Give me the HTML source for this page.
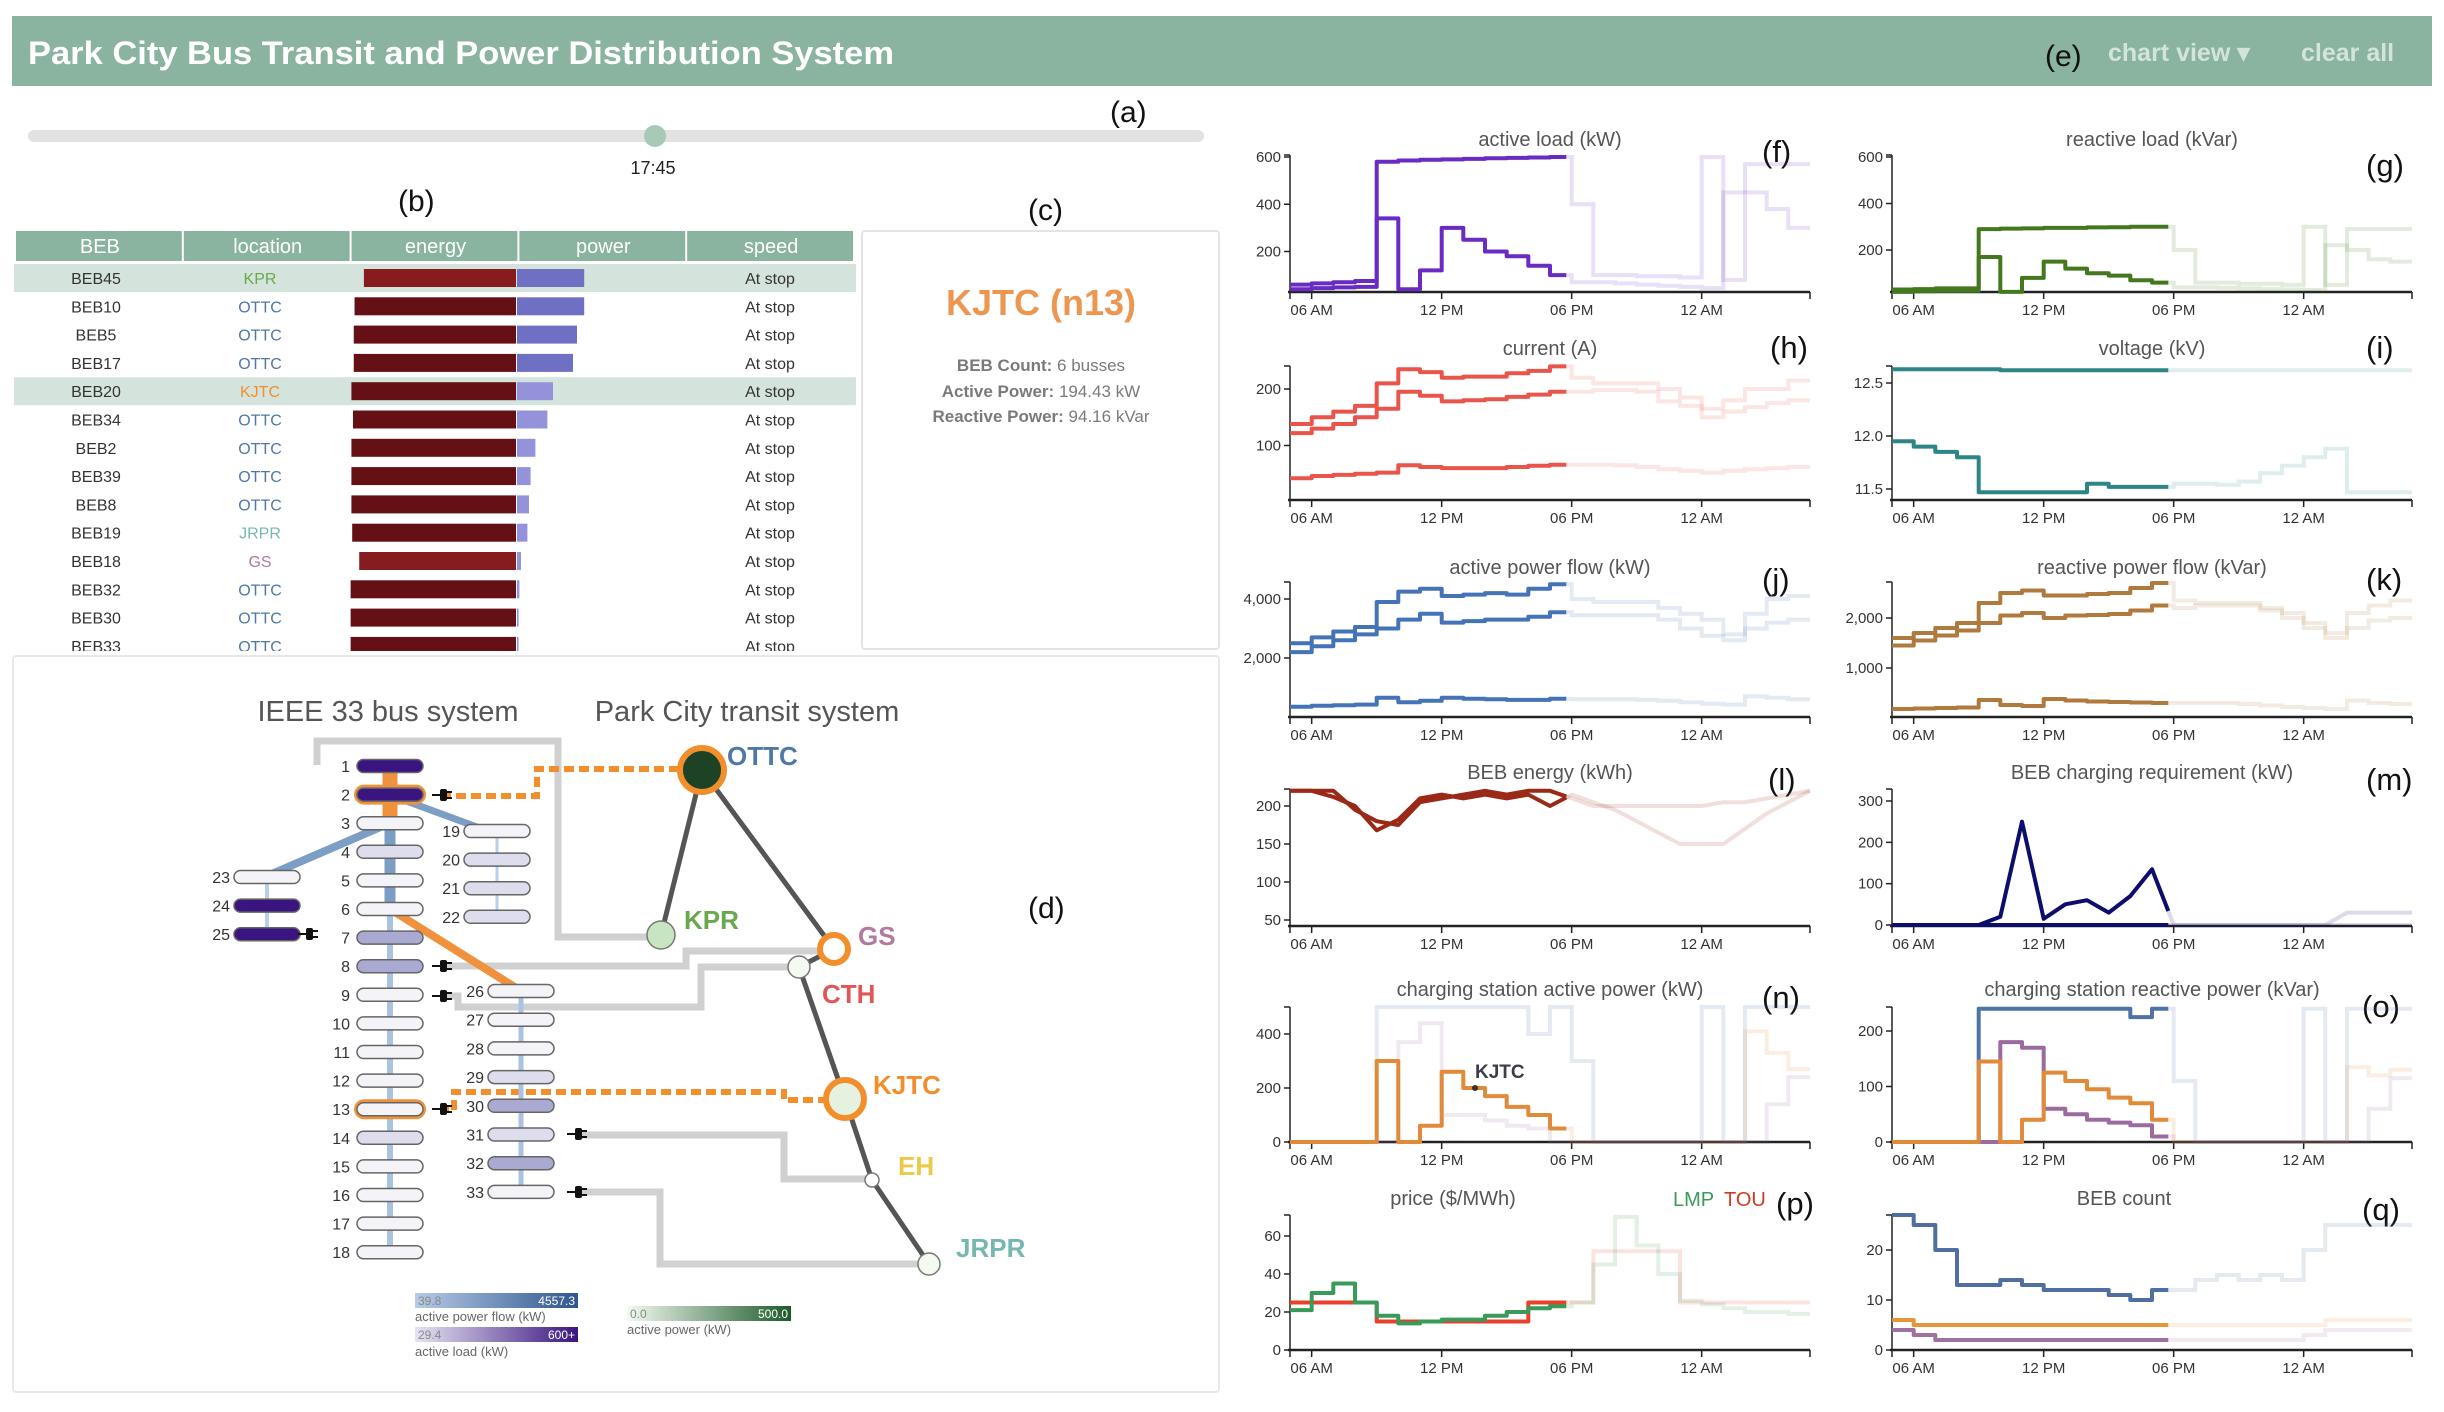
<!DOCTYPE html>
<html><head><meta charset="utf-8">
<style>
html,body{margin:0;padding:0;background:#fff;}
body{width:2444px;height:1412px;overflow:hidden;position:relative;font-family:"Liberation Sans",sans-serif;}
svg{position:absolute;left:0;top:0;}
</style></head>
<body>
<svg id="main" width="2444" height="1412" viewBox="0 0 2444 1412" xmlns="http://www.w3.org/2000/svg" font-family="Liberation Sans, sans-serif">
  <g>
    <rect x="12" y="16" width="2420" height="70" fill="#8ab3a0"/>
    <text x="28" y="64" font-size="32" font-weight="bold" fill="#fff" textLength="866" lengthAdjust="spacingAndGlyphs">Park City Bus Transit and Power Distribution System</text>
    <text x="2045" y="66" font-size="30" fill="#111">(e)</text>
    <text x="2108" y="61" font-size="25" font-weight="bold" fill="#d3e4db">chart view ▾</text>
    <text x="2301" y="61" font-size="25" font-weight="bold" fill="#d3e4db">clear all</text>
  </g>
  <g>
    <rect x="28" y="130" width="1176" height="12" rx="6" fill="#e2e2e2"/>
    <circle cx="655" cy="136" r="11" fill="#a8c9b7"/>
    <text x="653" y="174" font-size="18" fill="#222" text-anchor="middle">17:45</text>
  </g>
  <text x="1110" y="122" font-size="30" fill="#111">(a)</text>
  <text x="398" y="211" font-size="30" fill="#111">(b)</text>
  <text x="1028" y="220" font-size="30" fill="#111">(c)</text>

  <g id="table"></g>

  <g>
    <rect x="862" y="231" width="357" height="418" fill="#fff" stroke="#e4e4e4" stroke-width="2" rx="3"/>
    <text x="1041" y="315" font-size="36" font-weight="bold" fill="#ec9650" text-anchor="middle">KJTC (n13)</text>
    <text x="1041" y="371" font-size="17" fill="#7a7a7a" text-anchor="middle"><tspan font-weight="bold">BEB Count:</tspan> 6 busses</text>
    <text x="1041" y="397" font-size="17" fill="#7a7a7a" text-anchor="middle"><tspan font-weight="bold">Active Power:</tspan> 194.43 kW</text>
    <text x="1041" y="422" font-size="17" fill="#7a7a7a" text-anchor="middle"><tspan font-weight="bold">Reactive Power:</tspan> 94.16 kVar</text>
  </g>

  <g id="net">
    <rect x="13" y="656" width="1206" height="736" fill="#fff" stroke="#e8e8e8" stroke-width="2" rx="3"/>
    <text x="388" y="721" font-size="29" fill="#555" text-anchor="middle">IEEE 33 bus system</text>
    <text x="747" y="721" font-size="29" fill="#555" text-anchor="middle">Park City transit system</text>
    <text x="1028" y="918" font-size="30" fill="#111">(d)</text>
  </g>

  <g id="charts"></g>
</svg>

<script>
const hours = [5,6,7,8,9,10,11,12,13,14,15,16,17,18,19,20,21,22,23,24,25,26,27,28,29];
const currentTime = 17.75;
const xTicks = [6,12,18,24];
const xTickLabels = ["06 AM","12 PM","06 PM","12 AM"];

const activeLoadA = [60,65,70,75,580,585,588,590,592,595,596,598,600,400,100,100,95,95,90,600,80,570,570,570,570];
const activeLoadB = [40,45,48,50,340,40,120,300,250,200,180,140,100,70,70,65,60,55,50,45,450,450,380,300,300];
const reactiveLoadA = [30,32,35,35,290,292,293,295,295,297,298,300,300,200,60,60,55,55,50,300,50,290,290,290,290];
const reactiveLoadB = [20,22,25,25,170,20,80,150,120,100,90,70,60,40,40,38,35,32,30,28,220,200,160,150,150];
const currentA = [138,150,160,170,210,235,230,220,222,222,228,232,240,220,210,210,210,200,185,165,180,200,200,215,215];
const currentB = [122,130,138,150,165,195,188,178,180,182,186,190,195,195,198,198,195,178,170,150,160,168,175,180,180];
const currentC = [42,46,48,50,52,65,62,60,60,60,62,64,66,66,66,65,62,58,55,52,55,58,60,62,62];
const voltageA = [12.63,12.63,12.63,12.63,12.63,12.62,12.62,12.62,12.62,12.62,12.62,12.62,12.62,12.62,12.62,12.62,12.62,12.62,12.62,12.62,12.62,12.62,12.62,12.62,12.62];
const voltageB = [11.95,11.9,11.85,11.8,11.47,11.47,11.47,11.47,11.47,11.55,11.52,11.52,11.52,11.55,11.55,11.54,11.57,11.65,11.72,11.8,11.88,11.47,11.47,11.47,11.47];
const flowA = [2500,2700,2900,3050,3900,4250,4350,4100,4150,4200,4150,4350,4500,4000,3900,3900,3900,3700,3500,3300,2800,3500,4000,4100,4100];
const flowB = [2200,2400,2600,2800,3000,3300,3500,3200,3250,3300,3300,3400,3550,3450,3450,3450,3450,3300,3000,2750,2600,3000,3200,3300,3300];
const flowC = [350,380,400,420,650,500,550,650,620,600,580,580,620,600,600,600,580,550,500,450,420,700,650,600,600];
const rflowA = [1600,1700,1800,1900,2300,2500,2550,2450,2450,2480,2500,2600,2700,2350,2300,2300,2300,2200,2100,1900,1700,2100,2250,2350,2350];
const rflowB = [1450,1550,1650,1750,1900,2050,2100,2000,2050,2060,2080,2150,2250,2200,2250,2250,2250,2150,2000,1800,1600,1800,1950,2000,2000];
const rflowC = [180,190,200,210,360,260,240,380,350,330,320,310,300,300,300,300,280,250,220,200,180,350,300,280,280];
const energyA = [220,220,220,195,180,175,205,210,215,220,215,220,220,210,200,200,200,200,200,200,205,205,210,215,220];
const energyB = [220,220,212,200,168,182,210,215,210,215,210,215,200,215,205,195,180,165,150,150,150,170,190,205,220];
const chargeReqA = [0,0,0,0,0,20,250,15,50,60,30,70,135,0,0,0,0,0,0,0,0,0,0,0,0];
const chargeReqB = [0,0,0,0,0,0,0,0,0,0,0,0,0,0,0,0,0,0,0,0,0,30,30,30,30];
const csActiveKJTC = [0,0,0,0,300,0,60,260,200,170,130,100,50,0,0,0,0,0,0,0,0,410,330,270,270];
const csActiveOTTC = [0,0,0,0,500,500,500,500,500,500,500,400,500,300,0,0,0,0,0,500,0,500,500,500,500];
const csActiveGS = [0,0,0,0,0,370,440,100,100,80,60,50,0,0,0,0,0,0,0,0,0,0,140,240,240];
const csReactOTTC = [0,0,0,0,240,240,240,240,240,240,240,225,240,110,0,0,0,0,0,240,0,240,240,240,240];
const csReactKJTC = [0,0,0,0,145,0,40,125,110,95,80,70,40,0,0,0,0,0,0,0,0,135,120,130,130];
const csReactGS = [0,0,0,0,0,180,170,60,50,40,35,30,10,0,0,0,0,0,0,0,0,0,60,115,115];
const priceLMP = [21,30,35,25,18,14,15,16,16,18,20,22,23,25,45,70,55,40,26,24,22,20,20,19,19];
const priceTOU = [25,25,25,25,15,15,15,15,15,15,15,25,25,25,52,52,52,52,25,25,25,25,25,25,25];
const countOTTC = [27,25,20,13,13,14,13,12,12,12,11,10,12,12,14,15,14,15,14,20,25,25,25,25,25];
const countKJTC = [6,5,5,5,5,5,5,5,5,5,5,5,5,5,5,5,5,5,5,5,6,6,6,6,6];
const countGS = [4,3,2,2,2,2,2,2,2,2,2,2,2,2,2,2,2,2,2,3,4,4,4,4,4];

const bebIds = ["BEB45","BEB10","BEB5","BEB17","BEB20","BEB34","BEB2","BEB39","BEB8","BEB19","BEB18","BEB32","BEB30","BEB33"];
const bebLocs = ["KPR","OTTC","OTTC","OTTC","KJTC","OTTC","OTTC","OTTC","OTTC","JRPR","GS","OTTC","OTTC","OTTC"];
const bebEnergy = [195,207,208,208,211,209,211,211,211,210,201,212,212,212];
const bebPower = [84,84,75,70,45,38,23,17,15,13,5,3,2,2];
</script>
<script>
const NS="http://www.w3.org/2000/svg";
function mk(tag,attrs,parent){const e=document.createElementNS(NS,tag);for(const k in attrs)e.setAttribute(k,attrs[k]);if(parent)parent.appendChild(e);return e;}

(function(){
  const g=document.getElementById('table');
  const heads=["BEB","location","energy","power","speed"];
  const cw=167.8, x0=16;
  heads.forEach((h,i)=>{
    const r=mk('rect',{x:x0+i*cw,y:231,width:cw-2,height:30,fill:'#8ab3a0'},g);
    
    
    const t=mk('text',{x:x0+i*cw+cw/2,y:253,'font-size':20,fill:'#fff','text-anchor':'middle'},g);
    t.textContent=h;
    
    
  });
  const locColor={KPR:'#6aa84f',OTTC:'#4e79a7',KJTC:'#f28e2b',JRPR:'#76b7b2',GS:'#b07aa1'};
  bebIds.forEach((id,i)=>{
    const yT=264+i*28.3, yc=yT+14;
    const row=mk('g',{},g);
    
    
    if(i===0||i===4) mk('rect',{x:14,y:yT,width:842,height:28,fill:'#d4e4dc'},row);
    let t=mk('text',{x:96,y:yc+6,'font-size':16,fill:'#333','text-anchor':'middle'},row);t.textContent=id;
    t=mk('text',{x:260,y:yc+6,'font-size':16,fill:locColor[bebLocs[i]],'text-anchor':'middle'},row);t.textContent=bebLocs[i];
    const ew=bebEnergy[i]*0.78;
    const eb=mk('rect',{x:516-ew,y:yc-9,width:ew,height:18,fill:(i===0||i===10)?'#861c1e':'#651015'},row);
    
    
    const pw=bebPower[i]*0.8;
    const pb=mk('rect',{x:517,y:yc-9,width:pw,height:18,fill:bebPower[i]>60?'#6f6fc4':'#9592dc'},row);
    
    
    t=mk('text',{x:770,y:yc+6,'font-size':16,fill:'#333','text-anchor':'middle'},row);t.textContent='At stop';
  });
  mk('rect',{x:0,y:651,width:860,height:4,fill:'#fff'},g);
})();

(function(){
  const g=document.getElementById('net');
  const gray='#d0d0d0';
  function path(d,st,name){const p=mk('path',Object.assign({d:d,fill:'none'},st),g);return p;}
  path('M317,765 L317,741 L558,741 L558,937 L660,937',{stroke:gray,'stroke-width':7},'link-kpr');
  path('M444,966 L686,966 L686,951 L818,951',{stroke:gray,'stroke-width':7},'link-gs');
  path('M444,996 L458,996 L458,1007 L701,1007 L701,967 L799,967',{stroke:gray,'stroke-width':7},'link-cth');
  path('M579,1135 L784,1135 L784,1179 L872,1179',{stroke:gray,'stroke-width':7},'link-eh');
  path('M579,1192 L660,1192 L660,1264 L929,1264',{stroke:gray,'stroke-width':7},'link-jrpr');
  path('M661,935 L702,770 L834,949 L799,967 L845,1099 L872,1180 L929,1264',{stroke:'#555','stroke-width':5},'transit-route');
  path('M679,769 L537,769 L537,796 L444,796',{stroke:'#f28e2b','stroke-width':6,'stroke-dasharray':'10,5'},'charging-link-ottc');
  path('M828,1100 L784,1100 L784,1092 L454,1092 L454,1110 L444,1110',{stroke:'#f28e2b','stroke-width':6,'stroke-dasharray':'10,5'},'charging-link-kjtc');
  path('M390,766 L390,823',{stroke:'#f0913d','stroke-width':15},'line-1-3');
  path('M390,823 L390,909',{stroke:'#7c9dc4','stroke-width':11},'line-3-6');
  path('M390,909 L390,1252',{stroke:'#a9c3e0','stroke-width':6},'line-6-18');
  path('M390,795 L485,830',{stroke:'#7c9dc4','stroke-width':7},'line-2-19');
  path('M497,831 L497,917',{stroke:'#b8d0ea','stroke-width':3},'line-19-22');
  path('M390,823 L267,876',{stroke:'#7c9dc4','stroke-width':8},'line-3-23');
  path('M267,876 L267,934',{stroke:'#b8d0ea','stroke-width':4},'line-23-25');
  path('M390,909 L521,991',{stroke:'#f0913d','stroke-width':8},'line-6-26');
  path('M521,991 L521,1192',{stroke:'#a9c3e0','stroke-width':5},'line-26-33');
  const buses=[];
  for(let i=1;i<=18;i++)buses.push([i,390,766+(i-1)*28.6,350]);
  for(let i=19;i<=22;i++)buses.push([i,497,831+(i-19)*28.6,460]);
  for(let i=23;i<=25;i++)buses.push([i,267,877+(i-23)*28.6,230]);
  for(let i=26;i<=33;i++)buses.push([i,521,991+(i-26)*28.7,484]);
  const dark=[1,24,25], mid=[7,8,30,32], light2=[4,14,20,21,22,29,31];
  buses.forEach(([n,cx,cy,lx])=>{
    let fill='#f3f3f8'; if(dark.includes(n))fill='#3a1580'; else if(mid.includes(n))fill='#aaa9d2'; else if(light2.includes(n))fill='#dddded';
    if(n===2||n===13){mk('rect',{x:cx-36,y:cy-10,width:72,height:20,rx:10,fill:'#f0913d'},g);}
    const r=mk('rect',{x:cx-33,y:cy-6.5,width:66,height:13,rx:6.5,fill:n===2?'#3a1580':fill,stroke:'#666','stroke-width':1.5},g);
    
    
    const t=mk('text',{x:lx,y:cy+6,'font-size':16,fill:'#333','text-anchor':'end'},g);t.textContent=n;
  });
  [[444,795],[444,966],[444,996],[444,1109],[310,934],[579,1134],[579,1192]].forEach(([x,y])=>{
    const p=mk('g',{},g);
    
    
    mk('line',{x1:x-12,y1:y,x2:x-3,y2:y,stroke:'#111','stroke-width':2},p);
    mk('rect',{x:x-4,y:y-6,width:7,height:12,rx:2,fill:'#111'},p);
    mk('line',{x1:x+3,y1:y-3,x2:x+8,y2:y-3,stroke:'#111','stroke-width':2},p);
    mk('line',{x1:x+3,y1:y+3,x2:x+8,y2:y+3,stroke:'#111','stroke-width':2},p);
  });
  const nodes=[["OTTC",702,770,22,'#1e4226','#f28e2b',727,755,'#4e79a7'],
    ["KPR",661,935,14,'#c8e5c2','#777',684,919,'#6aa84f'],
    ["GS",834,949,14,'#fff','#f28e2b',858,935,'#b07aa1'],
    ["CTH",799,967,11,'#f4faf2','#777',822,993,'#e15759'],
    ["KJTC",845,1099,19,'#e4f2df','#f28e2b',873,1084,'#f28e2b'],
    ["EH",872,1180,7,'#fff','#777',898,1165,'#edc948'],
    ["JRPR",929,1264,11,'#f4faf2','#777',956,1247,'#76b7b2']];
  nodes.forEach(([n,x,y,r,f,s,lx,ly,lc])=>{
    const c=mk('circle',{cx:x,cy:y,r:r,fill:f,stroke:s,'stroke-width':(s==='#f28e2b'?6:1.5)},g);
    
    
    const t=mk('text',{x:lx,y:ly+10,'font-size':26,'font-weight':'bold',fill:lc},g);t.textContent=n;
  });
  const defs=mk('defs',{},g);
  const gr=(id,a,b)=>{const lg=mk('linearGradient',{id:id},defs);mk('stop',{offset:'0',['stop-color']:a},lg);mk('stop',{offset:'1',['stop-color']:b},lg);};
  gr('gFlow','#b8cbe6','#2d5690');gr('gLoad','#e6e4f2','#3a1580');gr('gAct','#f2faf0','#1e5a2a');
  const L=[[415,1293,163,15,'gFlow','39.8','4557.3','active power flow (kW)',1321,'legend-power-flow'],
           [415,1327,163,15,'gLoad','29.4','600+','active load (kW)',1356,'legend-active-load'],
           [627,1306,164,15,'gAct','0.0','500.0','active power (kW)',1334,'legend-active-power']];
  L.forEach(([x,y,w,h,id,a,b,lab,ly,name])=>{
    const lg=mk('g',{},g);
    
    
    mk('rect',{x:x,y:y,width:w,height:h,fill:'url(#'+id+')'},lg);
    let t=mk('text',{x:x+3,y:y+12,'font-size':12,fill:'#8a8a8a'},lg);t.textContent=a;
    t=mk('text',{x:x+w-3,y:y+12,'font-size':12,fill:'#fff','text-anchor':'end'},lg);t.textContent=b;
    t=mk('text',{x:x,y:ly,'font-size':13,fill:'#666'},lg);t.textContent=lab;
  });
})();

(function(){
  const g=document.getElementById('charts');
  const PXH=520/24;
  function chart(c){
    const cg=mk('g',{},g);
    
    
    const X=t=>c.x0+(t-5)*PXH;
    const k=(c.p1-c.p2)/(c.v1-c.v2);
    const Y=v=>c.p2+(v-c.v2)*k;
    let t=mk('text',{x:c.tx||c.x0+260,y:c.ty,'font-size':20,fill:'#555','text-anchor':'middle'},cg);t.textContent=c.title;
    
    
    t=mk('text',{x:c.lx,y:c.ly,'font-size':31,fill:'#111'},cg);t.textContent=c.label;
    mk('line',{x1:c.x0,y1:c.top,x2:c.x0,y2:c.base,stroke:'#222','stroke-width':1.5},cg);
    mk('line',{x1:c.x0-6,y1:c.top,x2:c.x0,y2:c.top,stroke:'#222','stroke-width':1.5},cg);
    mk('line',{x1:c.x0-2,y1:c.base,x2:c.x0+520,y2:c.base,stroke:'#222','stroke-width':2.5},cg);
    [5,29].forEach(h=>mk('line',{x1:X(h),y1:c.base,x2:X(h),y2:c.base+7,stroke:'#222','stroke-width':1.5},cg));
    xTicks.forEach((h,i)=>{
      mk('line',{x1:X(h),y1:c.base,x2:X(h),y2:c.base+7,stroke:'#222','stroke-width':1.5},cg);
      const tt=mk('text',{x:X(h),y:c.base+23,'font-size':15,fill:'#333','text-anchor':'middle'},cg);tt.textContent=xTickLabels[i];
    });
    c.yticks.forEach(v=>{
      const y=Y(v);
      mk('line',{x1:c.x0-6,y1:y,x2:c.x0,y2:y,stroke:'#222','stroke-width':1.5},cg);
      const tt=mk('text',{x:c.x0-9,y:y+5,'font-size':15,fill:'#333','text-anchor':'end'},cg);
      tt.textContent=c.fmt?c.fmt(v):v.toLocaleString('en-US');
    });
    c.series.forEach(s=>{
      const vals=s.data;
      const pts=[];
      for(let i=0;i<hours.length;i++){
        const yv=Math.max(c.top,Math.min(c.base,Y(vals[i])));
        if(c.step&&i>0){pts.push([hours[i],pts[pts.length-1][1]]);}
        pts.push([hours[i],yv]);
      }
      const solid=[],fade=[];
      for(let i=0;i<pts.length;i++){
        const [h,y]=pts[i];
        if(h<=currentTime) solid.push([h,y]);
        if(i>0&&pts[i-1][0]<currentTime&&h>currentTime){
          const [h0,y0]=pts[i-1];const f=(currentTime-h0)/(h-h0);const yy=y0+(y-y0)*f;
          solid.push([currentTime,yy]);fade.push([currentTime,yy]);
        }
        if(h>=currentTime) fade.push([h,y]);
      }
      const d=a=>a.map((p,i)=>(i?'L':'M')+X(p[0]).toFixed(1)+','+p[1].toFixed(1)).join(' ');
      if(!s.fadeOnly){
        const p=mk('path',{d:d(solid),fill:'none',stroke:s.color,'stroke-width':4,'stroke-linejoin':'round'},cg);
        
        
        const p2=mk('path',{d:d(fade),fill:'none',stroke:s.color,'stroke-width':4,opacity:0.15},cg);
        
        
      } else {
        const p=mk('path',{d:d(pts),fill:'none',stroke:s.color,'stroke-width':4,opacity:0.15},cg);
        
        
      }
    });
    return {X,Y,cg};
  }
  const L0=1290,R0=1892;
  chart({name:'active-load-chart',title:'active load (kW)',label:'(f)',lx:1762,ly:162,x0:L0,top:155,base:292,v1:600,p1:157,v2:200,p2:251.5,ty:146,yticks:[200,400,600],step:true,
    series:[{name:'active-load-line-a',data:activeLoadA,color:'#6a2bc2'},{name:'active-load-line-b',data:activeLoadB,color:'#6a2bc2'}]});
  chart({name:'reactive-load-chart',title:'reactive load (kVar)',label:'(g)',lx:2366,ly:176,x0:R0,top:155,base:292,v1:600,p1:157,v2:200,p2:250,ty:146,yticks:[200,400,600],step:true,
    series:[{name:'reactive-load-line-a',data:reactiveLoadA,color:'#44781f'},{name:'reactive-load-line-b',data:reactiveLoadB,color:'#44781f'}]});
  chart({name:'current-chart',title:'current (A)',label:'(h)',lx:1770,ly:358,x0:L0,top:366,base:500,v1:200,p1:389,v2:100,p2:445.5,ty:355,yticks:[100,200],step:true,
    series:[{name:'current-line-a',data:currentA,color:'#e9554a'},{name:'current-line-b',data:currentB,color:'#e9554a'},{name:'current-line-c',data:currentC,color:'#e9554a'}]});
  chart({name:'voltage-chart',title:'voltage (kV)',label:'(i)',lx:2366,ly:358,x0:R0,top:366,base:500,v1:12.5,p1:383,v2:12.0,p2:436,ty:355,yticks:[11.5,12.0,12.5],fmt:v=>v.toFixed(1),step:true,
    series:[{name:'voltage-line-a',data:voltageA,color:'#2e8585'},{name:'voltage-line-b',data:voltageB,color:'#2e8585'}]});
  chart({name:'active-power-flow-chart',title:'active power flow (kW)',label:'(j)',lx:1762,ly:590,x0:L0,top:582,base:717,v1:4000,p1:599,v2:2000,p2:658,ty:574,yticks:[2000,4000],step:true,
    series:[{name:'flow-line-a',data:flowA,color:'#4573b8'},{name:'flow-line-b',data:flowB,color:'#4573b8'},{name:'flow-line-c',data:flowC,color:'#4573b8'}]});
  chart({name:'reactive-power-flow-chart',title:'reactive power flow (kVar)',label:'(k)',lx:2366,ly:590,x0:R0,top:582,base:717,v1:2000,p1:618,v2:1000,p2:668,ty:574,yticks:[1000,2000],step:true,
    series:[{name:'rflow-line-a',data:rflowA,color:'#b07a3e'},{name:'rflow-line-b',data:rflowB,color:'#b07a3e'},{name:'rflow-line-c',data:rflowC,color:'#b07a3e'}]});
  chart({name:'beb-energy-chart',title:'BEB energy (kWh)',label:'(l)',lx:1768,ly:790,x0:L0,top:789,base:926,v1:200,p1:806,v2:50,p2:920,ty:779,yticks:[50,100,150,200],step:false,
    series:[{name:'energy-line-a',data:energyA,color:'#9a2a17'},{name:'energy-line-b',data:energyB,color:'#9a2a17'}]});
  chart({name:'charging-requirement-chart',title:'BEB charging requirement (kW)',label:'(m)',lx:2366,ly:790,x0:R0,top:789,base:926,v1:300,p1:801,v2:0,p2:925,ty:779,yticks:[0,100,200,300],step:false,
    series:[{name:'charge-req-line-a',data:chargeReqA,color:'#0d0d6b'},{name:'charge-req-line-b',data:chargeReqB,color:'#0d0d6b'}]});
  const n=chart({name:'cs-active-power-chart',title:'charging station active power (kW)',label:'(n)',lx:1762,ly:1008,x0:L0,top:1007,base:1142,v1:400,p1:1034,v2:0,p2:1142,ty:996,yticks:[0,200,400],step:true,
    series:[{name:'cs-active-ottc',data:csActiveOTTC,color:'#4f73a8',fadeOnly:true},{name:'cs-active-gs',data:csActiveGS,color:'#9b6a9e',fadeOnly:true},{name:'cs-active-kjtc',data:csActiveKJTC,color:'#e08a3a'}]});
  const kt=mk('text',{x:1475,y:1078,'font-size':19,'font-weight':'bold',fill:'#3c3c4c'},n.cg);kt.textContent='KJTC';
  
  
  mk('circle',{cx:1475,cy:1088,r:3,fill:'#333'},n.cg);
  chart({name:'cs-reactive-power-chart',title:'charging station reactive power (kVar)',label:'(o)',lx:2362,ly:1017,x0:R0,top:1007,base:1142,v1:200,p1:1031,v2:0,p2:1142,ty:996,yticks:[0,100,200],step:true,
    series:[{name:'cs-react-ottc',data:csReactOTTC,color:'#4f73a8'},{name:'cs-react-gs',data:csReactGS,color:'#9b6a9e'},{name:'cs-react-kjtc',data:csReactKJTC,color:'#e08a3a'}]});
  const p=chart({name:'price-chart',title:'price ($/MWh)',label:'(p)',lx:1776,ly:1214,x0:L0,tx:1453,top:1215,base:1350,v1:60,p1:1236,v2:0,p2:1350,ty:1205,yticks:[0,20,40,60],step:true,
    series:[{name:'price-tou-line',data:priceTOU,color:'#e8402a'},{name:'price-lmp-line',data:priceLMP,color:'#3a9a5a'}]});
  let lt=mk('text',{x:1673,y:1206,'font-size':20,fill:'#3a9a5a'},p.cg);lt.textContent='LMP';
  
  lt=mk('text',{x:1724,y:1206,'font-size':20,fill:'#d03a24'},p.cg);lt.textContent='TOU';
  
  chart({name:'beb-count-chart',title:'BEB count',label:'(q)',lx:2362,ly:1220,x0:R0,tx:2124,top:1215,base:1350,v1:20,p1:1250,v2:0,p2:1350,ty:1205,yticks:[0,10,20],step:true,
    series:[{name:'count-ottc-line',data:countOTTC,color:'#4f6fa0'},{name:'count-kjtc-line',data:countKJTC,color:'#e8953a'},{name:'count-gs-line',data:countGS,color:'#a070a0'}]});
})();
</script>
</body></html>
